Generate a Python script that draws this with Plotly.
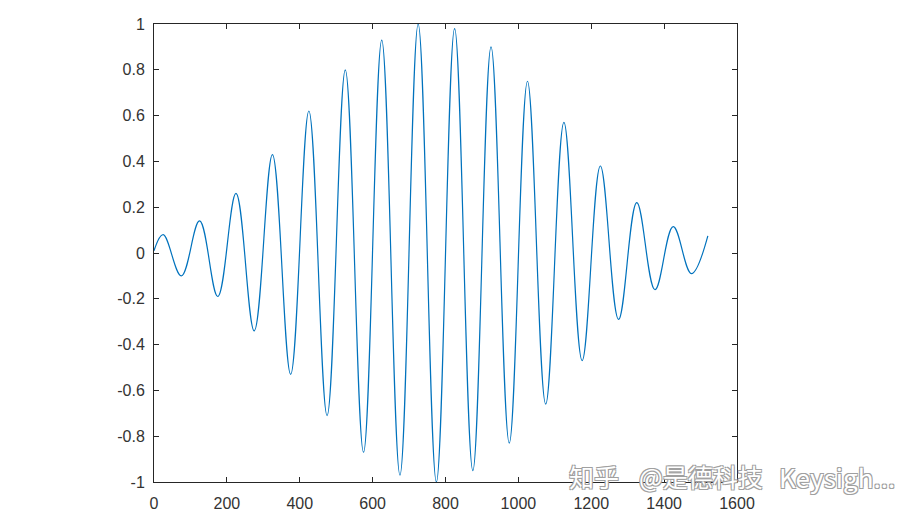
import plotly.graph_objects as go

# Samples: start, extrema (peaks/troughs) and end of the waveform
x_vals = [0, 25, 75, 125, 175, 225, 275, 325, 375, 425, 475, 525, 575, 625, 675, 725, 775,
          825, 875, 925, 975, 1025, 1075, 1125, 1175, 1225, 1275, 1325, 1375, 1425, 1475, 1520]
y_vals = [0.01, 0.08, -0.10, 0.14, -0.19, 0.26, -0.34, 0.43, -0.53, 0.62, -0.71, 0.80, -0.87,
          0.93, -0.97, 1.00, -1.00, 0.98, -0.95, 0.90, -0.83, 0.75, -0.66, 0.57, -0.47, 0.38,
          -0.29, 0.22, -0.16, 0.115, -0.09, 0.075]

x_ticks = [0, 200, 400, 600, 800, 1000, 1200, 1400, 1600]
x_ticklabels = ["0", "200", "400", "600", "800", "1000", "1200", "1400", "1600"]
y_ticks = [-1, -0.8, -0.6, -0.4, -0.2, 0, 0.2, 0.4, 0.6, 0.8, 1]
y_ticklabels = ["-1", "-0.8", "-0.6", "-0.4", "-0.2", "0", "0.2", "0.4", "0.6", "0.8", "1"]

watermark_parts = ["知乎", "@是德科技", "Keysigh..."]

fig = go.Figure()
fig.add_trace(go.Scatter(
    x=x_vals, y=y_vals, mode="lines",
    line=dict(color="#0072BD", width=1.2, shape="spline", smoothing=1.1),
    showlegend=False, hoverinfo="skip",
))

axis_common = dict(
    showline=True, linecolor="#262626", linewidth=1, mirror="ticks",
    ticks="inside", ticklen=5, tickwidth=1, tickcolor="#262626",
    showgrid=False, zeroline=False,
    tickfont=dict(family="Liberation Sans, Arial, sans-serif", size=16, color="#333333"),
)

shadow = "-1px -1px 0 #a0a0a0, 1px -1px 0 #a0a0a0, -1px 1px 0 #a0a0a0, 1px 1px 0 #a0a0a0"
wm_x = [0.7087, 0.8286, 1.0686]
wm_size = [25, 25, 26]
annotations = [
    dict(text=t, xref="paper", yref="paper", x=xp, y=0.013,
         xanchor="left", yanchor="middle", showarrow=False,
         font=dict(family="Noto Sans CJK SC, sans-serif", size=s, color="white", shadow=shadow))
    for t, xp, s in zip(watermark_parts, wm_x, wm_size)
]

fig.update_layout(
    width=919, height=524,
    margin=dict(l=153.5, r=182, t=23.5, b=39),
    paper_bgcolor="white", plot_bgcolor="white",
    xaxis=dict(range=[0, 1600], tickvals=x_ticks, ticktext=x_ticklabels,
               ticklabelstandoff=7, **axis_common),
    yaxis=dict(range=[-1, 1], tickvals=y_ticks, ticktext=y_ticklabels,
               ticklabelstandoff=5, **axis_common),
    annotations=annotations,
)

fig.write_html("out.html")
